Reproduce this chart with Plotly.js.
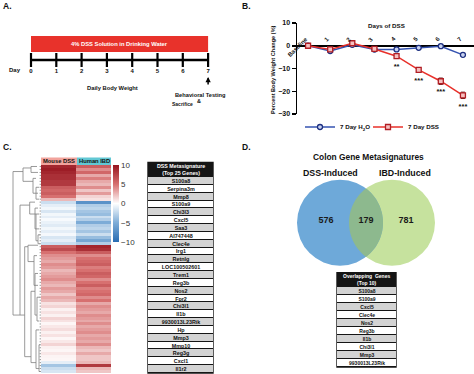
<!DOCTYPE html>
<html><head><meta charset="utf-8">
<script src="https://cdn.plot.ly/plotly-3.0.1.min.js"></script>
<style>html,body{margin:0;padding:0;background:#fff}#c{width:474px;height:374px}</style>
</head><body><div id="c"></div><script>
// ---------- data ----------
const days=[0,1,2,3,4,5,6,7];
const dayLabels=['0','1','2','3','4','5','6','7'];
const bwCats=['Baseline','1','2','3','4','5','6','7'];
const h2o=[0,-2.3,0.4,-1.7,-1.6,-0.9,-0.2,-4.0];
const h2oErr=[0,0.5,0.5,0.4,0.4,0.4,0.3,0.5];
const dss=[0,-1.6,1.1,-1.4,-4.6,-10.6,-15.6,-21.8];
const dssErr=[0,0.4,0.6,0.5,0.6,1.0,1.4,1.4];
const sig=['','','','','**','***','***','***'];
const heatCols=['Mouse DSS','Human IBD'];
const mouseDSS=[9,9.5,9,8.5,8.5,8,8,6,5.5,6,5,2.5,
 -2,
 -1,-0.5,-1.5,-0.5,-1,-0.3,-0.8,-1.2,-0.5,-1,-0.4,-1.5,-1,-2,
 6,7,5,
 4,3.5,3,4,3.5,2.5,3,3.5,4,3,2.5,3.5,3,2,3,2.5,
 1,1.5,0.5,1,0.5,1.5,1,0.3,0.8,1.2,0.5,1,0.3,0.8,1.5,
 0.5,0.3,0.8,0.4,
 0.3,-1,-3.5,-2,-1.5];
const humanIBD=[6,4,5.5,3,4.5,3,2.5,4,2,3.5,1.5,1,
 -7,
 -3,-2.5,-3.5,-4,-2,-3,-5,-3,-2.5,-3.5,-2,-4,-5.5,-3,
 9,8.5,6,
 4,5,5.5,6,4.5,5,6,5.5,4,5,6,4.5,5,5.5,4,5,
 3,4,3.5,3,4,3.5,3,4,3,3.5,4,3,3.5,3,4,
 2.5,2,3,2,
 2,2.5,8,2.5,2];
// dendrogram links: [height, rowTop, rowBottom, heightTopChild, heightBottomChild]
const dendLinks=[[28,1.7,50,18,21],[18,0.5,5,10,8],[10,0,2,4,3],[8,4,9,5,3],[5,7,11,2,2],
 [21,13,50,11.3,16.3],[11.3,12,16,6,5],[6,14,21,3,2],[5,16,25,2,3],[3,23,26,1,1],
 [16.3,27,64,13,10],[13,26.5,32,3,7],[7,30,40,4,3],[10,42,66,6,5],[6,36,50,3,4],
 [5,55,68,2,2],[4,44,52,1,2],[2,60,69,1,1]];
const dssTop25=['S100a8','Serpina3m','Mmp8','S100a9','Chi3l3','Cxcl5','Saa3','AI747448','Clec4e','Irg1',
 'Retnlg','LOC100502601','Trem1','Reg3b','Nos2','Fpr2','Chi3l1','Il1b','9930013L23Rik','Hp',
 'Mmp3','Mmp10','Reg3g','Cxcl1','Il1r2'];
const overlapTop10=['S100a8','S100a9','Cxcl5','Clec4e','Nos2','Reg3b','Il1b','Chi3l1','Mmp3','9930013L23Rik'];
const vennSets=['DSS-Induced','IBD-Induced'];
const vennCounts=[576,179,781];

// ---------- helpers ----------
const W=474,H=374,F='Liberation Sans, Arial, sans-serif';
const px=x=>x/W, py=y=>1-y/H;
const traces=[],shapes=[],ann=[];
const lab=(x,y,t,size,opt={})=>ann.push(Object.assign({xref:'paper',yref:'paper',x:px(x),y:py(y),xanchor:'center',yanchor:'middle',text:t,showarrow:false,font:{size:size,color:'#111',family:F,weight:'bold'}},opt));

// ---------- panel A ----------
shapes.push({type:'rect',xref:'x',yref:'y',x0:days[0],x1:days[days.length-1],y0:36,y1:52,fillcolor:'#e8322b',line:{width:0},layer:'below'});
ann.push({xref:'x',yref:'y',x:(days[0]+days[days.length-1])/2,y:44,xanchor:'center',yanchor:'middle',text:'4% DSS Solution in Drinking Water',showarrow:false,font:{size:5.8,color:'#fff',family:F,weight:'bold'}});
traces.push({type:'scatter',x:days,y:days.map(()=>60),xaxis:'x',yaxis:'y',mode:'lines+markers',line:{color:'#000',width:2.5},
 marker:{symbol:'line-ns',size:10,line:{color:'#000',width:2.2}},showlegend:false,hoverinfo:'skip'});
traces.push({type:'scatter',x:days,y:days.map(()=>71),xaxis:'x',yaxis:'y',mode:'text',text:dayLabels,
 textfont:{size:6,color:'#111',family:F,weight:'bold'},showlegend:false,hoverinfo:'skip'});
lab(15,70,'Day',6);
lab(112,88,'Daily Body Weight',5.8);
ann.push({xref:'x',yref:'y',x:days[7],y:77,ax:0,ay:9,showarrow:true,arrowhead:2,arrowsize:0.7,arrowwidth:1.5,arrowcolor:'#000',text:''});
lab(200,95,'Behavioral Testing',5.7);
lab(182,104,'Sacrifice',5);
lab(199,101,'&',5.5);
lab(1,6,'A.',8.5,{xanchor:'left'});

// ---------- panel B ----------
traces.push({type:'scatter',x:days,y:h2o,xaxis:'x2',yaxis:'y2',mode:'lines+markers',name:'7 Day H<sub>2</sub>O',legend:'legend',
 line:{color:'#3553b0',width:1.5},marker:{symbol:'circle',size:5,color:'#c9d3f0',line:{color:'#1d2f80',width:1.3}},
 error_y:{type:'data',array:h2oErr,color:'#1d2f80',thickness:1,width:2}});
traces.push({type:'scatter',x:days,y:dss,xaxis:'x2',yaxis:'y2',mode:'lines+markers',name:'7 Day DSS',legend:'legend2',
 line:{color:'#e8302a',width:1.5},marker:{symbol:'square',size:5,color:'#f6c0c0',line:{color:'#b01e24',width:1.3}},
 error_y:{type:'data',array:dssErr,color:'#5a1010',thickness:1,width:2}});
traces.push({type:'scatter',x:days,y:dss.map(v=>v-5),xaxis:'x2',yaxis:'y2',mode:'text',text:sig,
 textfont:{size:7.5,color:'#111',family:F,weight:'bold'},showlegend:false,hoverinfo:'skip'});
bwCats.forEach((c,i)=>ann.push({xref:'x2',yref:'y2',x:days[i]+0.15,y:5.6,xanchor:'right',yanchor:'top',textangle:-45,
 text:c,showarrow:false,font:{size:6,color:'#111',family:F,weight:'bold'}}));
lab(386,25,'Days of DSS',6.2);
lab(273,70,'Percent Body Weight Change (%)',5.6,{textangle:-90});
lab(240,6,'B.',8.5,{xanchor:'left'});

// ---------- panel C ----------
traces.push({type:'heatmap',xaxis:'x3',yaxis:'y3',x:[0,1],y:mouseDSS.map((_,i)=>i),
 z:mouseDSS.map((v,i)=>[v,humanIBD[i]]),zmin:-10,zmax:10,
 colorscale:[[0,'rgb(40,108,178)'],[0.25,'rgb(125,172,215)'],[0.5,'rgb(255,255,255)'],[0.75,'rgb(215,112,112)'],[1,'rgb(150,20,30)']],
 colorbar:{x:px(113),xanchor:'left',y:py(165),yanchor:'top',len:77,lenmode:'pixels',thickness:6,thicknessmode:'pixels',
  outlinewidth:0,tickvals:[10,5,0,-5,-10],ticks:'',tickfont:{size:8,color:'#333',family:F},xpad:0,ypad:0},
 hoverinfo:'skip'});
const dx=[],dy=[];
dendLinks.forEach(([d,rt,rb,dt,db])=>{dx.push(dt,d,d,db,null);dy.push(rt,rt,rb,rb,null);});
mouseDSS.forEach((_,i)=>{dx.push(0,1.4,null);dy.push(i,i,null);});
traces.push({type:'scatter',x:dx,y:dy,xaxis:'x4',yaxis:'y3',mode:'lines',line:{color:'#808080',width:0.8},showlegend:false,hoverinfo:'skip'});
shapes.push({type:'rect',xref:'paper',yref:'paper',x0:px(41),x1:px(77),y0:py(165),y1:py(157.5),fillcolor:'#f2a39c',line:{width:0}});
shapes.push({type:'rect',xref:'paper',yref:'paper',x0:px(77),x1:px(111),y0:py(165),y1:py(157.5),fillcolor:'#62c8d4',line:{width:0}});
lab(59,161.3,heatCols[0],5.8);
lab(94,161.3,heatCols[1],5.8);
// table C
shapes.push({type:'rect',xref:'paper',yref:'paper',x0:px(147.3),x1:px(213.7),y0:py(373.7),y1:py(161.7),fillcolor:'#151515',line:{width:0},layer:'below'});
traces.push({type:'heatmap',xaxis:'x6',yaxis:'y6',x:[0],y:dssTop25.map((_,i)=>i),z:dssTop25.map((_,i)=>[i%2]),
 zmin:0,zmax:1,colorscale:[[0,'#d3d3d3'],[1,'#ffffff']],showscale:false,ygap:1,
 text:dssTop25.map(g=>[g]),texttemplate:'%{text}',textfont:{size:5.4,color:'#111',family:F,weight:'bold'},hoverinfo:'skip'});
lab(180.5,169.5,'DSS Metasignature<br>(Top 25 Genes)',5.3,{font:{size:5.3,color:'#fff',family:F,weight:'bold'}});
lab(1,147,'C.',8.5,{xanchor:'left'});

// ---------- panel D ----------
const c1=[340,222.7],c2=[392,222.7],R=43;
shapes.push({type:'circle',xref:'x5',yref:'y5',x0:c2[0]-R,x1:c2[0]+R,y0:c2[1]-R,y1:c2[1]+R,fillcolor:'#c6e29e',line:{width:0},layer:'below'});
shapes.push({type:'circle',xref:'x5',yref:'y5',x0:c1[0]-R,x1:c1[0]+R,y0:c1[1]-R,y1:c1[1]+R,fillcolor:'#6ea9d9',line:{width:0},layer:'below'});
(function(){
 const d=c2[0]-c1[0],a=Math.acos((d/2)/R),pts=[];
 for(let k=0;k<=30;k++){const t=-a+2*a*k/30;pts.push([c1[0]+R*Math.cos(t),c1[1]+R*Math.sin(t)]);}
 for(let k=0;k<=30;k++){const t=Math.PI-a+2*a*k/30;pts.push([c2[0]+R*Math.cos(t),c2[1]+R*Math.sin(t)]);}
 shapes.push({type:'path',xref:'x5',yref:'y5',path:'M'+pts.map(p=>p[0].toFixed(2)+','+p[1].toFixed(2)).join('L')+'Z',fillcolor:'#8db98e',line:{width:0},layer:'below'});
})();
traces.push({type:'scatter',xaxis:'x5',yaxis:'y5',mode:'text',x:[c1[0]-14,(c1[0]+c2[0])/2,c2[0]+14],y:[220.5,220.5,220.5],
 text:vennCounts.map(String),textfont:{size:9,color:'#1a1a1a',family:F,weight:'bold'},showlegend:false,hoverinfo:'skip'});
lab(368,157,'Colon Gene Metasignatures',8.4);
lab(330,173,vennSets[0],8.8);
lab(405,173,vennSets[1],8.8);
// table D
shapes.push({type:'rect',xref:'paper',yref:'paper',x0:px(336.3),x1:px(396.7),y0:py(367.7),y1:py(272),fillcolor:'#151515',line:{width:0},layer:'below'});
traces.push({type:'heatmap',xaxis:'x7',yaxis:'y7',x:[0],y:overlapTop10.map((_,i)=>i),z:overlapTop10.map((_,i)=>[i%2]),
 zmin:0,zmax:1,colorscale:[[0,'#d3d3d3'],[1,'#ffffff']],showscale:false,ygap:1,
 text:overlapTop10.map(g=>[g]),texttemplate:'%{text}',textfont:{size:5,color:'#111',family:F,weight:'bold'},hoverinfo:'skip'});
lab(366.5,279.5,'Overlapping  Genes<br>(Top 10)',5,{font:{size:5,color:'#fff',family:F,weight:'bold'}});
lab(240,147,'D.',8.5,{xanchor:'left'});

// ---------- layout ----------
const hid={visible:false,fixedrange:true,showgrid:false,zeroline:false};
const legFont={size:6.2,family:F,color:'#111',weight:'bold'};
const layout={width:W,height:H,margin:{l:0,r:0,t:0,b:0,autoexpand:false},paper_bgcolor:'#fff',plot_bgcolor:'rgba(0,0,0,0)',
 font:{family:F,color:'#111'},showlegend:true,hovermode:false,
 legend:{orientation:'h',x:px(300),y:py(127),xanchor:'left',yanchor:'middle',font:legFont,bgcolor:'rgba(0,0,0,0)',itemwidth:30},
 legend2:{orientation:'h',x:px(368),y:py(127),xanchor:'left',yanchor:'middle',font:legFont,bgcolor:'rgba(0,0,0,0)',itemwidth:30},
 xaxis:Object.assign({},hid,{domain:[0,px(240)],range:[-31/25.3,(240-31)/25.3]}),
 yaxis:Object.assign({},hid,{domain:[py(130),py(14)],range:[130,14]}),
 xaxis2:Object.assign({},hid,{domain:[px(297),1],range:[-0.5,7.5],anchor:'y2'}),
 yaxis2:{domain:[py(114),py(23)],range:[-30,10],anchor:'x2',showline:true,linecolor:'#000',linewidth:1.5,ticks:'outside',ticklen:4,tickwidth:1.5,tickcolor:'#000',
  tickvals:[10,0,-10,-20,-30],tickfont:{size:7,family:F,color:'#111',weight:'bold'},showgrid:false,zeroline:true,zerolinecolor:'#000',zerolinewidth:1.5,fixedrange:true,automargin:false},
 xaxis3:Object.assign({},hid,{domain:[px(41),px(111)],range:[-0.5,1.5],anchor:'y3'}),
 yaxis3:Object.assign({},hid,{domain:[py(373),py(165)],range:[mouseDSS.length-0.5,-0.5],anchor:'x3'}),
 xaxis4:Object.assign({},hid,{domain:[px(10),px(41)],range:[31,0],anchor:'y3'}),
 xaxis5:Object.assign({},hid,{domain:[px(280),px(460)],range:[280,460],anchor:'y5'}),
 yaxis5:Object.assign({},hid,{domain:[py(270),py(175)],range:[270,175],anchor:'x5'}),
 xaxis6:Object.assign({},hid,{domain:[px(148),px(213)],range:[-0.5,0.5],anchor:'y6'}),
 yaxis6:Object.assign({},hid,{domain:[py(373),py(177)],range:[dssTop25.length-0.5,-0.5],anchor:'x6'}),
 xaxis7:Object.assign({},hid,{domain:[px(337),px(396)],range:[-0.5,0.5],anchor:'y7'}),
 yaxis7:Object.assign({},hid,{domain:[py(367),py(287)],range:[overlapTop10.length-0.5,-0.5],anchor:'x7'}),
 shapes:shapes,annotations:ann};
Plotly.newPlot('c',traces,layout,{staticPlot:true,displayModeBar:false});
</script></body></html>
